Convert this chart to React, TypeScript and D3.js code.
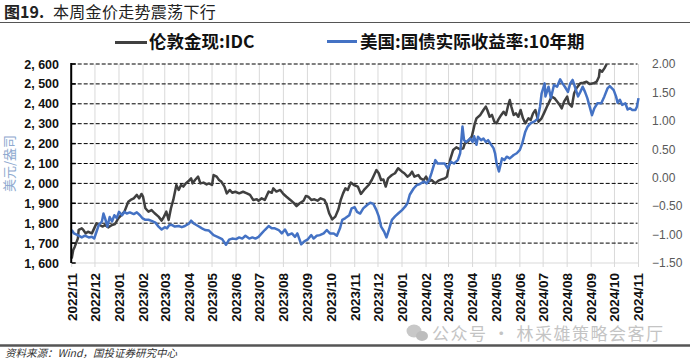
import React from "react";
import * as d3 from "d3";

// ---- data ----
const START_DATE = "2022-11-01";
const END_DATE = "2024-11-01";

// day offsets from START_DATE and London spot gold (USD/oz)
const goldDays = [0,2,4,8,9,13,15,18,21,26,29,32,36,40,43,47,52,56,60,64,68,73,76,80,84,87,90,92,95,99,103,107,112,116,119,122,125,128,131,135,138,141,144,147,150,154,156,159,163,166,170,174,177,181,183,187,190,193,197,200,204,207,211,216,221,226,230,234,239,
241,245,249,254,258,260,264,269,273,277,282,286,290,294,299,302,305,309,313,317,321,326,329,332,336,340,344,347,350,353,356,360,364,369,373,377,383,387,390,393,396,399,402,405,408,413,417,421,426,429,433,436,439,442,447,450,454,457,460,464,469,473,477,481,
484,488,492,496,501,505,507,511,516,520,522,527,531,534,536,539,542,545,548,550,554,557,560,563,565,567,570,573,576,579,582,585,589,592,595,598,602,606,609,613,616,619,623,628,632,635,639,641,645,648,651,656,660,664,668,673,677,680,681,684,687,690];
const goldValues = [1623,1665,1682,1724,1766,1774,1766,1749,1757,1749,1774,1799,1791,1783,1791,1779,1791,1796,1824,1841,1858,1908,1917,1925,1942,1925,1947,1933,1875,1858,1866,1850,1833,1813,1833,1858,1816,1875,1917,1992,1967,1992,1984,2000,2009,2025,2000,2017,2034,2000,2004,1995,2000,1992,2042,2034,2017,2009,1984,1950,1967,1953,1958,1950,1958,1950,1942,1917,1920,
1912,1925,1917,1959,1953,1975,1959,1967,1947,1933,1917,1903,1886,1900,1913,1937,1933,1917,1920,1913,1925,1917,1891,1850,1819,1833,1870,1917,1950,1975,1967,2004,1992,1984,1947,1967,1992,2017,2042,2067,2051,2017,2020,1984,2025,2042,2051,2076,2059,2051,2034,2042,2059,2034,2042,2025,2017,2034,2009,2017,2000,2014,2020,2025,
2034,2118,2168,2181,2171,2176,2201,2210,2235,2302,2327,2344,2369,2386,2369,2335,2344,2310,2302,2319,2344,2360,2344,2394,2419,2386,2344,2352,2335,2369,2327,2302,2327,2319,2352,2369,2310,2327,2352,2386,2411,2436,2427,2402,2377,2411,2436,2402,2386,2453,2478,2503,2506,2511,2499,2503,2511,2536,2570,2561,2578,2600];

// day offsets from START_DATE and US 10Y real yield series (right axis)
const realDays = [0,3,9,13,17,22,26,29,32,35,39,41,43,46,49,52,55,58,61,65,68,71,75,80,84,88,91,95,99,103,108,112,116,120,123,126,129,133,138,142,146,151,154,158,163,168,172,177,183,188,194,199,203,207,212,216,220,224,229,233,237,
241,245,249,254,258,262,267,271,275,279,284,288,291,296,300,304,309,312,316,320,325,329,333,338,342,346,349,353,358,361,365,368,372,376,381,385,389,393,396,399,403,406,409,413,417,421,426,430,433,436,441,445,449,454,458,461,464,469,472,476,
481,485,489,493,498,501,504,506,509,514,517,519,522,524,528,531,534,537,541,544,546,548,551,555,558,561,565,570,574,578,581,585,588,592,597,601,604,606,610,611,615,618,622,626,630,633,636,640,643,646,649,653,656,659,662,665,668,671,674,678,683,687,691,694,699,702,704,707,710,714,717,720,723,727,729,731];
const realValues = [-0.92,-0.98,-1.02,-1.05,-1.02,-1.05,-1.04,-1.07,-0.95,-0.83,-0.77,-0.63,-0.71,-0.86,-0.69,-0.77,-0.66,-0.71,-0.60,-0.66,-0.60,-0.63,-0.61,-0.64,-0.61,-0.66,-0.71,-0.74,-0.74,-0.76,-0.79,-0.86,-0.91,-0.87,-0.89,-0.83,-0.83,-0.86,-0.85,-0.87,-0.85,-0.81,-0.755,-0.81,-0.85,-0.89,-0.92,-0.93,-1.01,-1.04,-1.08,-1.18,-1.09,-1.07,-1.08,-1.05,-1.07,-1.02,-1.07,-1.05,-1.07,
-1.04,-0.98,-0.92,-0.85,-0.89,-0.89,-0.92,-0.98,-0.91,-1.01,-0.98,-1.04,-0.98,-1.17,-1.12,-1.09,-1.01,-1.07,-1.02,-1.01,-0.98,-0.92,-0.98,-0.98,-1.02,-0.89,-0.74,-0.71,-0.66,-0.54,-0.52,-0.60,-0.63,-0.54,-0.48,-0.44,-0.46,-0.57,-0.68,-0.86,-0.95,-1.05,-0.92,-0.74,-0.68,-0.63,-0.57,-0.51,-0.45,-0.30,-0.19,-0.13,-0.11,-0.07,-0.10,-0.04,0.08,0.31,0.25,0.25,
0.25,0.165,0.28,0.25,0.31,0.43,0.90,0.66,0.63,0.69,0.63,0.73,0.58,0.72,0.66,0.69,0.63,0.66,0.58,0.52,0.43,0.25,0.11,0.34,0.31,0.37,0.34,0.40,0.43,0.49,0.60,0.81,0.90,0.96,0.99,1.04,1.25,1.48,1.66,1.43,1.60,1.40,1.63,1.60,1.73,1.66,1.60,1.51,1.66,1.72,1.60,1.43,1.51,1.60,1.51,1.40,1.25,1.10,1.22,1.31,1.31,1.43,1.57,1.61,1.54,1.43,1.32,1.37,1.28,1.31,1.20,1.22,1.19,1.19,1.25,1.40];

const leftTicks = [1600, 1700, 1800, 1900, 2000, 2100, 2200, 2300, 2400, 2500, 2600];
const rightTicks = [-1.5, -1.0, -0.5, 0.0, 0.5, 1.0, 1.5, 2.0];

const titleLead = "图19.";
const titleRest = "本周金价走势震荡下行";
const legendGold = "伦敦金现:IDC";
const legendReal = "美国:国债实际收益率:10年期";
const yAxisTitle = "美元/盎司";
const sourceText = "资料来源：Wind，国投证券研究中心";
const watermarkText = "公众号 · 林采雄策略会客厅";

// ---- layout ----
const W = 690;
const H = 359;
const plot = { left: 71.7, right: 638.5, top: 64, bottom: 263 };
const GOLD = "#404040";
const BLUE = "#4472c4";
const CJK = "'Noto Sans CJK SC', 'Noto Sans', sans-serif";
const LAT = "'Liberation Sans', Arial, sans-serif";

export default function App() {
  const parse = d3.timeParse("%Y-%m-%d");
  const start = parse(START_DATE) as Date;
  const end = parse(END_DATE) as Date;

  const x = d3.scaleTime().domain([start, end]).range([plot.left, plot.right]);
  const yL = d3.scaleLinear().domain([1600, 2600]).range([plot.bottom, plot.top]);
  const yR = d3.scaleLinear().domain([-1.5, 2.0]).range([plot.bottom, plot.top]);

  const gold = goldDays.map((d, i) => ({ date: d3.timeDay.offset(start, d), v: goldValues[i] }));
  const real = realDays.map((d, i) => ({ date: d3.timeDay.offset(start, d), v: realValues[i] }));

  const goldLine = d3
    .line<{ date: Date; v: number }>()
    .x((d) => x(d.date))
    .y((d) => yL(d.v));
  const realLine = d3
    .line<{ date: Date; v: number }>()
    .x((d) => x(d.date))
    .y((d) => yR(d.v));

  const months = d3.timeMonth.range(start, d3.timeDay.offset(end, 1));
  const fmtMonth = d3.timeFormat("%Y/%m");
  const fmtLeft = (v: number) => d3.format(",")(v).replace(",", ", ");
  const fmtRight = d3.format(".2f");

  return (
    <div style={{ position: "fixed", left: 0, top: 0, width: W, height: H, background: "#fff" }}>
      <svg width={W} height={H} style={{ display: "block" }}>
        <rect x={0} y={0} width={W} height={H} fill="#fff" />
        {/* title */}
        <text x={4} y={18} fontFamily={CJK} fontSize={16} fontWeight={700} fill="#222">
          {titleLead}
        </text>
        <text x={53} y={18} fontFamily={CJK} fontSize={16} fill="#222" letterSpacing={0.3}>
          {titleRest}
        </text>
        <line x1={0} x2={W} y1={22.5} y2={22.5} stroke="#555" strokeWidth={1} />

        {/* legend */}
        <line x1={115} x2={147} y1={42.5} y2={42.5} stroke={GOLD} strokeWidth={3} />
        <text x={149} y={48} fontFamily={CJK} fontSize={17.5} fontWeight={700} fill="#111">
          {legendGold}
        </text>
        <line x1={327} x2={357} y1={41.5} y2={41.5} stroke={BLUE} strokeWidth={3} />
        <text x={360} y={48} fontFamily={CJK} fontSize={17.5} fontWeight={700} fill="#111">
          {legendReal}
        </text>

        {/* vertical month gridlines */}
        {months.map((m, i) => (
          <line key={"v" + i} x1={x(m)} x2={x(m)} y1={plot.top} y2={plot.bottom + 4} stroke="#d9d9d9" strokeWidth={1} />
        ))}
        {/* bottom axis line */}
        <line x1={plot.left} x2={plot.right} y1={plot.bottom} y2={plot.bottom} stroke="#d9d9d9" strokeWidth={1} />
        {/* right axis line */}
        <line x1={plot.right} x2={plot.right} y1={plot.top} y2={plot.bottom} stroke="#d9d9d9" strokeWidth={1} />

        {/* horizontal dashed gridlines */}
        {leftTicks.filter((t) => t > 1600).map((t) => (
          <line key={"h" + t} x1={plot.left} x2={plot.right - 1} y1={yL(t)} y2={yL(t)} stroke="#000" strokeWidth={1} strokeDasharray="4,2" />
        ))}

        {/* series */}
        <path d={goldLine(gold) || ""} fill="none" stroke={GOLD} strokeWidth={2.5} strokeLinejoin="round" />
        <path d={realLine(real) || ""} fill="none" stroke={BLUE} strokeWidth={2.5} strokeLinejoin="round" />

        {/* left axis */}
        <line x1={plot.left - 0.5} x2={plot.left - 0.5} y1={plot.top - 1} y2={plot.bottom} stroke="#000" strokeWidth={2} />
        {leftTicks.map((t) => (
          <g key={"l" + t}>
            <line x1={plot.left} x2={plot.left + 4} y1={yL(t)} y2={yL(t)} stroke="#000" strokeWidth={1.5} />
            <text x={59} y={yL(t)} dy="0.36em" textAnchor="end" fontFamily={LAT} fontSize={12.5} fontWeight={700} fill="#111">
              {fmtLeft(t)}
            </text>
          </g>
        ))}
        <text
          transform={`translate(9.5,${(plot.top + plot.bottom) / 2}) rotate(-90)`}
          textAnchor="middle"
          dy="0.35em"
          fontFamily={CJK}
          fontSize={13}
          fill="#8ea9cf"
        >
          {yAxisTitle}
        </text>

        {/* right axis labels */}
        {rightTicks.map((t) => (
          <text key={"r" + t} x={652} y={yR(t)} dy="0.36em" fontFamily={LAT} fontSize={12} fill="#595959">
            {fmtRight(t)}
          </text>
        ))}

        {/* x labels */}
        {months.map((m, i) => (
          <text
            key={"x" + i}
            transform={`translate(${x(m)},273) rotate(-90)`}
            textAnchor="end"
            dy="0.36em"
            fontFamily={LAT}
            fontSize={13.5}
            fontWeight={700}
            fill="#111"
          >
            {fmtMonth(m)}
          </text>
        ))}

        {/* watermark */}
        <g fill="#c8c8c8">
          <ellipse cx={414} cy={331} rx={7.5} ry={6.5} />
          <ellipse cx={422} cy={336} rx={6} ry={5} fill="#bdbdbd" />
        </g>
        <text x={432} y={340} fontFamily={CJK} fontSize={17} fill="#c4c4c4" letterSpacing={1.5}>
          {watermarkText}
        </text>

        {/* footer */}
        <line x1={0} x2={W} y1={345.5} y2={345.5} stroke="#555" strokeWidth={2.5} />
        <text x={5} y={357} fontFamily={CJK} fontSize={10.5} fontStyle="italic" fill="#333">
          {sourceText}
        </text>
      </svg>
    </div>
  );
}
